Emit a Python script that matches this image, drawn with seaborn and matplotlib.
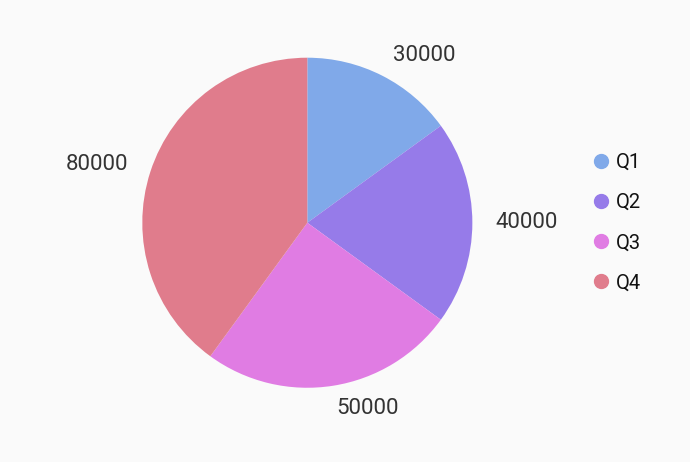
import matplotlib
matplotlib.use("Agg")
import matplotlib.pyplot as plt
from matplotlib.lines import Line2D
import seaborn as sns

# данные
quarters = ["Q1", "Q2", "Q3", "Q4"]
values = [30000, 40000, 50000, 80000]
colors = ["#80a9e9", "#967be9", "#e07ce3", "#e07c8c"]

sns.set_theme(style="white")
plt.rcParams["font.family"] = ["Roboto", "DejaVu Sans"]

fig = plt.figure(figsize=(6.9, 4.62), dpi=100)
fig.patch.set_facecolor("#fafafa")

ax = fig.add_axes([0.1464, 0.0714, 0.598, 0.893])
ax.set_facecolor("#fafafa")

wedges, texts = ax.pie(
    values,
    labels=[str(v) for v in values],
    colors=sns.color_palette(colors),
    startangle=90,
    counterclock=False,
    labeldistance=1.14,
    wedgeprops={"linewidth": 0, "edgecolor": "none"},
    textprops={"fontsize": 16, "color": "#333333"},
)
ax.set_xlim(-1.25, 1.25)
ax.set_ylim(-1.25, 1.25)
ax.set_aspect("equal")
ax.axis("off")

handles = [
    Line2D([0], [0], marker="o", linestyle="", markersize=10,
           markerfacecolor=c, markeredgecolor=c)
    for c in colors
]
fig.legend(
    handles, quarters,
    loc="center left",
    bbox_to_anchor=(0.857, 0.518),
    frameon=False,
    fontsize=14.5,
    handlelength=1,
    handletextpad=0.2,
    labelspacing=1.05,
    borderpad=0,
    borderaxespad=0,
    labelcolor="#111111",
)

fig.savefig("out.png", dpi=100, facecolor=fig.get_facecolor())
